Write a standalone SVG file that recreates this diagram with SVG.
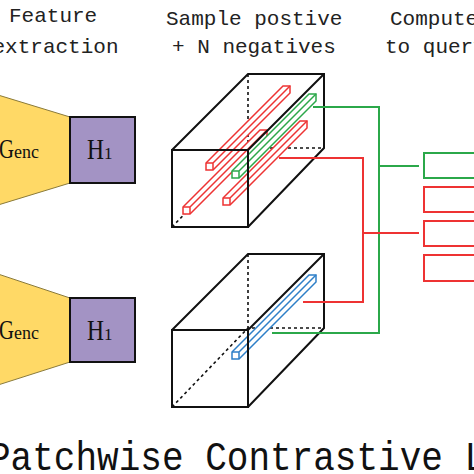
<svg xmlns="http://www.w3.org/2000/svg" xmlns:xlink="http://www.w3.org/1999/xlink" width="474" height="474" viewBox="0 0 474 474">
<style>
.title{font-family:"Liberation Mono","DejaVu Sans Mono",monospace;font-size:21px;fill:#222}
.big{font-family:"Liberation Mono","DejaVu Sans Mono",monospace;font-size:40px;fill:#111}
.serif{font-family:"Liberation Serif","Times New Roman",serif;fill:#111}
.gen{fill:#FFD966;stroke:#8a7a3a;stroke-width:1}
.head{fill:#A393C4;stroke:#111;stroke-width:2}
.edge{fill:none;stroke:#111;stroke-width:2}
.hidden{fill:none;stroke:#111;stroke-width:1.6;stroke-dasharray:3 3}
.red{stroke:#EE3333}
.green{stroke:#2BA84A}
.blue{stroke:#2E7FC8}
.wire{fill:none;stroke-width:2}
.box{fill:#fff;stroke-width:2}
</style>
<defs>
<g id="bar" stroke-width="1.5" stroke-linejoin="miter">
<path d="M0,7 L0,0 L77,-77 L84,-77 L84,-70 L7,7 Z" fill="#fff"/>
<path d="M0,0 H7 V7 M7,0 L84,-77" fill="none"/>
</g>
</defs>
<rect width="474" height="474" fill="#fff"/>
<g id="titles">
<text class="title" x="9" y="22">Feature</text>
<text class="title" x="-7.5" y="53">extraction</text>
<text class="title" x="166" y="25">Sample postive</text>
<text class="title" x="172" y="53">+ N negatives</text>
<text class="title" x="390" y="25">Compute</text>
<text class="title" x="385" y="53">to query</text>
<text class="big" x="-11" y="470" textLength="562" lengthAdjust="spacingAndGlyphs">Patchwise Contrastive Loss</text>
</g>
<g id="encoder-top">
<polygon class="gen" points="-2,95 70,117 70,183 -2,205"/>
<text class="serif" x="-1" y="158" font-size="27" textLength="15" lengthAdjust="spacingAndGlyphs">G</text>
<text class="serif" x="14" y="158" font-size="18">enc</text>
</g>
<g id="head-top">
<rect class="head" x="70" y="117" width="65" height="66"/>
<text class="serif" x="87" y="159" font-size="30" textLength="17" lengthAdjust="spacingAndGlyphs">H</text>
<text class="serif" x="104" y="159" font-size="17">1</text>
</g>
<g id="encoder-bottom">
<polygon class="gen" points="-2,274 70,298 70,362 -2,385"/>
<text class="serif" x="-1" y="339" font-size="27" textLength="15" lengthAdjust="spacingAndGlyphs">G</text>
<text class="serif" x="14" y="339" font-size="18">enc</text>
</g>
<g id="head-bottom">
<rect class="head" x="70" y="298" width="65" height="64"/>
<text class="serif" x="87" y="340" font-size="30" textLength="17" lengthAdjust="spacingAndGlyphs">H</text>
<text class="serif" x="104" y="340" font-size="17">1</text>
</g>
<g id="cube-top">
<path class="hidden" d="M248,74 V148 H324 M172,227 L248,148"/>
<use xlink:href="#bar" href="#bar" class="red" x="183" y="207"/>
<use xlink:href="#bar" href="#bar" class="red" x="206" y="163"/>
<use xlink:href="#bar" href="#bar" class="red" x="223" y="198"/>
<use xlink:href="#bar" href="#bar" class="green" x="232" y="171"/>
<path class="edge" d="M172,150 H248 V227 H172 Z M172,150 L248,74 H324 V148 L248,227 M248,150 L324,74"/>
</g>
<g id="cube-bottom">
<path class="hidden" d="M248,254 V328 H324 M172,407 L248,328"/>
<use xlink:href="#bar" href="#bar" class="blue" x="232" y="352"/>
<path class="edge" d="M172,330 H248 V407 H172 Z M172,330 L248,254 H324 V328 L248,407 M248,330 L324,254"/>
</g>
<g id="connectors">
<path class="wire green" d="M313,107 H379 V333 H272 M379,166 H419"/>
<path class="wire red" d="M279,158 H363 V302 H303 M363,233 H419"/>
</g>
<g id="scores">
<rect class="box green" x="424" y="153" width="60" height="25"/>
<rect class="box red" x="424" y="187" width="60" height="25"/>
<rect class="box red" x="424" y="221" width="60" height="25"/>
<rect class="box red" x="424" y="255" width="60" height="26"/>
</g>
</svg>
